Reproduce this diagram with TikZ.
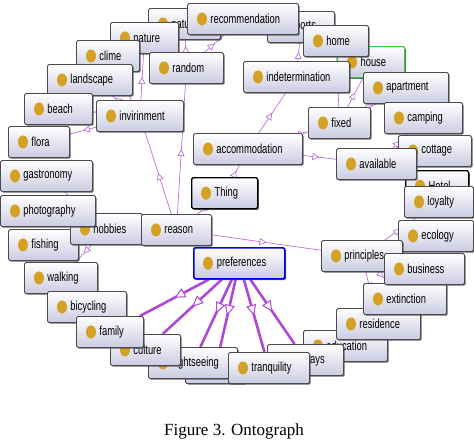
\documentclass[tikz,border=0pt]{standalone}
\usepackage{fontspec}
\newfontfamily\clsfont[FakeStretch=0.72]{Liberation Sans}
\newfontfamily\capfont{Liberation Serif}
\usetikzlibrary{arrows.meta,decorations.markings,shadows}
\pgfdeclarelayer{background}
\pgfsetlayers{background,main}

\definecolor{edgeviolet}{HTML}{BC6FE0}
\definecolor{thickviolet}{HTML}{AE48DA}
\definecolor{dotgold}{HTML}{D3A124}
\definecolor{boxbot}{HTML}{CBCBE3}
\definecolor{boxline}{HTML}{4A4A4A}

\tikzset{
  clsbox/.style={rectangle,rounded corners=1.5pt,draw=boxline,line width=0.9pt,
    top color=white,bottom color=boxbot,anchor=north west,
    inner xsep=0pt,inner ysep=0pt,minimum height=31pt,
    font=\clsfont\fontsize{13}{15}\selectfont,
    drop shadow={shadow xshift=1.2pt,shadow yshift=-1.2pt,fill=black!75,opacity=0.8}},
  chosen/.style={draw=black,line width=1.4pt},
  subcls/.style={draw=edgeviolet,line width=0.7pt,postaction={decorate},
    decoration={markings,mark=at position 0.5 with
      {\arrow[edgeviolet]{Triangle[open,fill=white,length=7pt,width=7pt,line width=0.7pt]}}}},
  subclsthick/.style={draw=thickviolet,line width=2.6pt,postaction={decorate},
    decoration={markings,mark=at position 0.5 with
      {\arrow[thickviolet]{Triangle[open,fill=white,length=11pt,width=10pt,line width=1pt]}}}}
}

% class box: style, name, corner, width, label
\newcommand\cls[5][]{%
  \node[clsbox,#1,minimum width=#4pt] (#2) at (#3) {\hbox to #4pt{\hskip23pt #5\hfil}};
  \fill[dotgold] ([xshift=15pt]#2.west) ellipse (5pt and 6.5pt);}

\begin{document}
\begin{tikzpicture}[x=1pt,y=-1pt]
    \useasboundingbox (0,0) rectangle (474,440);

    % environment side
    \cls{natural}{148,8}{72}{natural}
    \cls{nature}{110,22}{68}{nature}
    \cls{clime}{76,40}{63}{clime}
    \cls{landscape}{47,64}{85}{landscape}
    \cls{beach}{24,93}{68}{beach}
    \cls{flora}{8,126}{61}{flora}
    \cls{random}{149,52}{74}{random}
    \cls{invirinment}{96,100}{87}{invirinment}

    % accommodation side
    \cls{sports}{267,11}{67}{sports}
    \cls{recommendation}{187,3}{111}{recommendation}
    \cls[draw=green!75!black!80,line width=1.2pt]{house}{337,46}{67}{house}
    \cls{home}{303,25}{65}{home}
    \cls{indetermination}{243,61}{106}{indetermination}
    \cls{apartment}{363,72}{85}{apartment}
    \cls{camping}{384,102}{78}{camping}
    \cls{fixed}{308,107}{62}{fixed}
    \cls{cottage}{398,135}{73}{cottage}
    \cls[chosen]{Hotel}{405,170}{63}{Hotel}
    \cls{available}{336,148}{80}{available}
    \cls{loyalty}{404,186}{69}{loyalty}
    \cls{ecology}{398,220}{75}{ecology}
    \cls{accommodation}{193,133}{109}{accommodation}
    \cls[chosen]{Thing}{191,177}{66}{Thing}

    % hobbies side
    \cls{gastronomy}{0,160}{92}{gastronomy}
    \cls{fishing}{8,229}{70}{fishing}
    \cls{hobbies}{70,213}{72}{hobbies}
    \cls{photography}{0,195}{95}{photography}
    \cls{walking}{24,262}{73}{walking}
    \cls{bicycling}{47,291}{79}{bicycling}

    % preferences below
    \cls{hiddenbox}{185,352}{60}{}
    \cls{sightseeing}{148,347}{89}{sightseeing}
    \cls{culture}{110,334}{70}{culture}
    \cls{family}{76,316}{67}{family}
    \cls{education}{303,330}{84}{education}
    \cls{holidays}{267,344}{76}{holidays}
    \cls{tranquility}{228,352}{81}{tranquility}

    % principles side
    \cls{residence}{336,308}{84}{residence}
    \cls{extinction}{363,283}{83}{extinction}
    \cls{principles}{321,240}{81}{principles}
    \cls{business}{384,253}{80}{business}

    \cls{reason}{141,214}{70}{reason}
    \cls[draw=blue!90!black,line width=1.6pt]{preferences}{193,247}{91}{preferences}

    \begin{pgfonlayer}{background}
    \draw[subcls] (Thing) -- (reason);
    \draw[subcls] (Thing) -- (accommodation);
    \draw[subcls] (reason) -- (invirinment);
    \draw[subcls] (reason) -- (random);
    \draw[subcls] (reason) -- (principles);
    \draw[subcls] (reason) -- (hobbies);
    \draw[subcls] (invirinment) -- (nature);
    \draw[subcls] (invirinment) -- (landscape);
    \draw[subcls] (invirinment) -- (flora);
    \draw[subcls] (invirinment) -- (beach);
    \draw[subcls] (invirinment) -- (clime);
    \draw[subcls] (random) -- (natural);
    \draw[subcls] (random) -- (recommendation);
    \draw[subcls] (hobbies) -- (gastronomy);
    \draw[subcls] (hobbies) -- (fishing);
    \draw[subcls] (hobbies) -- (walking);
    \draw[subcls] (hobbies) -- (photography);
    \draw[subcls] (accommodation) -- (indetermination);
    \draw[subcls] (accommodation) -- (available);
    \draw[subcls] (accommodation) -- (fixed);
    \draw[subcls] (fixed) -- (house);
    \draw[subcls] (fixed) -- (apartment);
    \draw[subcls] (fixed) -- (home);
    \draw[subcls] (indetermination) -- (sports);
    \draw[subcls] (available) -- (cottage);
    \draw[subcls] (available) -- (camping);
    \draw[subcls] (available) -- (Hotel);
    \draw[subcls] (principles) -- (ecology);
    \draw[subcls] (principles) -- (loyalty);
    \draw[subcls] (principles) -- (business);
    \draw[subcls] (principles) -- (residence);
    \draw[subcls] (principles) -- (extinction);
    \foreach \kid in {family,culture,sightseeing,hiddenbox,tranquility,holidays}
      \draw[subclsthick] (preferences) -- (\kid);
    \end{pgfonlayer}

    \node[font=\capfont\fontsize{17}{20}\selectfont] (caption) at (234,431) {Figure 3. Ontograph};
\end{tikzpicture}
\end{document}
